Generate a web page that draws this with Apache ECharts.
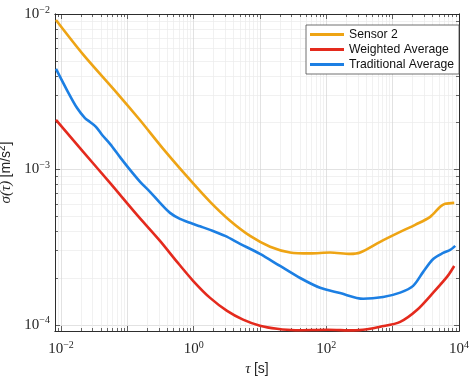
<!DOCTYPE html>
<html>
<head>
<meta charset="utf-8">
<script src="https://cdn.jsdelivr.net/npm/echarts@6/dist/echarts.min.js"></script>
<style>
  html, body { margin: 0; padding: 0; background: #fff; }
  #chart { width: 474px; height: 377px; }
</style>
</head>
<body>
<div id="chart"></div>
<script>
// Allan deviation data
const sensorTau = [0.00841, 0.0215, 0.070, 0.156, 0.345, 0.883, 1.77, 3.54, 7.09, 14.2, 28.4, 57.0, 114, 229, 324, 648, 1298, 2183, 3679, 5200, 6190, 8470]
const sensorSigma = [9.15e-3, 5.5e-3, 3.10e-3, 2.07e-3, 1.36e-3, 8.55e-4, 6.18e-4, 4.67e-4, 3.73e-4, 3.18e-4, 2.92e-4, 2.88e-4, 2.92e-4, 2.86e-4, 2.92e-4, 3.42e-4, 3.96e-4, 4.40e-4, 4.95e-4, 5.74e-4, 6.00e-4, 6.09e-4]

const weightedTau = [0.00841, 0.0215, 0.0548, 0.140, 0.311, 0.562, 0.980, 1.77, 3.19, 5.56, 10.0, 18.1, 33.8, 106, 254, 412, 648, 1298, 2344, 4083, 6637, 8470]
const weightedSigma = [2.08e-3, 1.30e-3, 8.19e-4, 5.10e-4, 3.47e-4, 2.54e-4, 1.92e-4, 1.49e-4, 1.23e-4, 1.08e-4, 9.86e-5, 9.42e-5, 9.22e-5, 9.29e-5, 9.2e-5, 9.36e-5, 9.70e-5, 1.045e-4, 1.25e-4, 1.61e-4, 2.04e-4, 2.39e-4]

const traditionalTau = [0.00841, 0.0123, 0.0174, 0.0230, 0.0274, 0.0337, 0.0415, 0.0548, 0.0776, 0.110, 0.156, 0.220, 0.311, 0.440, 0.622, 0.883, 1.25, 1.77, 2.98, 5.01, 10.0, 20.1, 40.3, 80.5, 161, 359, 719, 1298, 2037, 2884, 4083, 5781, 7362, 8770]
const traditionalSigma = [4.43e-3, 3.24e-3, 2.49e-3, 2.14e-3, 2.02e-3, 1.88e-3, 1.67e-3, 1.46e-3, 1.20e-3, 9.93e-4, 8.32e-4, 7.17e-4, 6.09e-4, 5.25e-4, 4.80e-4, 4.53e-4, 4.30e-4, 4.08e-4, 3.73e-4, 3.32e-4, 2.86e-4, 2.39e-4, 2.00e-4, 1.73e-4, 1.60e-4, 1.47e-4, 1.51e-4, 1.61e-4, 1.78e-4, 2.19e-4, 2.65e-4, 2.90e-4, 3.03e-4, 3.22e-4]

// decade exponents of the labelled ticks
const xDecades = [-2, 0, 2, 4]
const yDecades = [-4, -3, -2]

// axis range (log10)
const xRange = [-2.09, 4]
const yRange = [-4.04, -2]

const log10 = v => Math.log10(v)

// minor ticks: 2..9 x 10^n inside the range
const minorTicks = (range) => {
    const out = []
    for (let n = Math.floor(range[0]) - 1; n <= Math.ceil(range[1]); n++) {
        for (let k = 2; k <= 9; k++) {
            const v = n + Math.log10(k)
            if (v >= range[0] && v <= range[1]) out.push(v)
        }
    }
    return out
}
const majorTicks = (range) => {
    const out = []
    for (let n = Math.ceil(range[0]); n <= Math.floor(range[1]); n++) out.push(n)
    return out
}

const toPairs = (xs, ys) => xs.map((x, i) => [log10(x), log10(ys[i])])

const axisColor = '#262626'
const expLabel = v => {
    const n = Math.round(v)
    return '{b|10}{s|' + (n < 0 ? '\u2212' + (-n) : n) + '}'
}
const labelRich = {
    b: { fontFamily: 'Liberation Serif', fontSize: 15, color: axisColor },
    s: { fontFamily: 'Liberation Serif', fontSize: 10, color: axisColor, padding: [0, 0, 8, 0] }
}

// build an axis; kind = 'major' | 'minor'
const makeAxis = (dim, range, kind, position, gridIndex, showLabel, labelValues) => {
    const ticks = kind === 'major' ? majorTicks(range) : minorTicks(range)
    return {
        type: 'value',
        gridIndex: gridIndex,
        position: position,
        min: range[0],
        max: range[1],
        axisLine: { show: true, onZero: false, lineStyle: { color: axisColor, width: 0.8 } },
        axisTick: {
            show: true,
            inside: true,
            length: kind === 'major' ? 5 : 3,
            customValues: ticks,
            lineStyle: { color: axisColor, width: 0.7 }
        },
        axisLabel: showLabel ? {
            show: true,
            customValues: labelValues,
            formatter: expLabel,
            rich: labelRich,
            margin: dim === 'x' ? 9 : 5
        } : { show: false },
        splitLine: {
            show: position === 'bottom' || position === 'left',
            lineStyle: { color: kind === 'major' ? '#d6d6d6' : '#ebebeb', width: 0.7 }
        }
    }
}

const chart = echarts.init(document.getElementById('chart'))

const gridRect = { left: 55, right: 15, top: 14, bottom: 46, outerBoundsMode: 'none' }

const xAxes = [
    Object.assign(makeAxis('x', xRange, 'major', 'bottom', 0, true, xDecades), {
        name: '{i|\u03C4} {n|[s]}',
        nameLocation: 'middle',
        nameGap: 20,
        nameTextStyle: {
            rich: {
                i: { fontFamily: 'Liberation Serif', fontStyle: 'italic', fontSize: 15, color: axisColor },
                n: { fontFamily: 'Liberation Sans', fontSize: 14, color: axisColor }
            }
        }
    }),
    makeAxis('x', xRange, 'major', 'top', 0, false),
    makeAxis('x', xRange, 'minor', 'bottom', 1, false),
    makeAxis('x', xRange, 'minor', 'top', 1, false)
]

const yAxes = [
    Object.assign(makeAxis('y', yRange, 'major', 'left', 0, true, yDecades), {
        name: '{i|\u03C3(\u03C4)} {n|[m/s}{s|2}{n|]}',
        nameLocation: 'middle',
        nameGap: 38,
        nameRotate: 90,
        nameTextStyle: {
            rich: {
                i: { fontFamily: 'Liberation Serif', fontStyle: 'italic', fontSize: 15, color: axisColor },
                n: { fontFamily: 'Liberation Sans', fontSize: 14, color: axisColor },
                s: { fontFamily: 'Liberation Sans', fontSize: 10, color: axisColor, padding: [0, 0, 8, 0] }
            }
        }
    }),
    makeAxis('y', yRange, 'major', 'right', 0, false),
    makeAxis('y', yRange, 'minor', 'left', 1, false),
    makeAxis('y', yRange, 'minor', 'right', 1, false)
]

const lineSeries = (name, color, data) => ({
    name: name,
    type: 'line',
    xAxisIndex: 0,
    yAxisIndex: 0,
    data: data,
    showSymbol: false,
    smooth: 0.3,
    clip: false,
    lineStyle: { color: color, width: 2.6 },
    itemStyle: { color: color },
    z: 5
})

const option = {
    animation: false,
    backgroundColor: '#fff',
    grid: [gridRect, Object.assign({}, gridRect)],
    xAxis: xAxes,
    yAxis: yAxes,
    legend: {
        orient: 'vertical',
        left: 306,
        top: 25,
        icon: 'rect',
        itemWidth: 34,
        itemHeight: 3,
        itemGap: 2,
        padding: [3, 5, 3, 4],
        backgroundColor: '#fff',
        borderColor: '#4d4d4d',
        borderWidth: 0.8,
        textStyle: { fontFamily: 'Liberation Sans', fontSize: 12.2, color: '#111', lineHeight: 13 },
        data: ['Sensor 2', 'Weighted Average', 'Traditional Average']
    },
    series: [
        lineSeries('Sensor 2', '#EEA414', toPairs(sensorTau, sensorSigma)),
        lineSeries('Weighted Average', '#E42A1D', toPairs(weightedTau, weightedSigma)),
        lineSeries('Traditional Average', '#1C7FE3', toPairs(traditionalTau, traditionalSigma))
    ]
}

chart.setOption(option)
</script>
</body>
</html>
